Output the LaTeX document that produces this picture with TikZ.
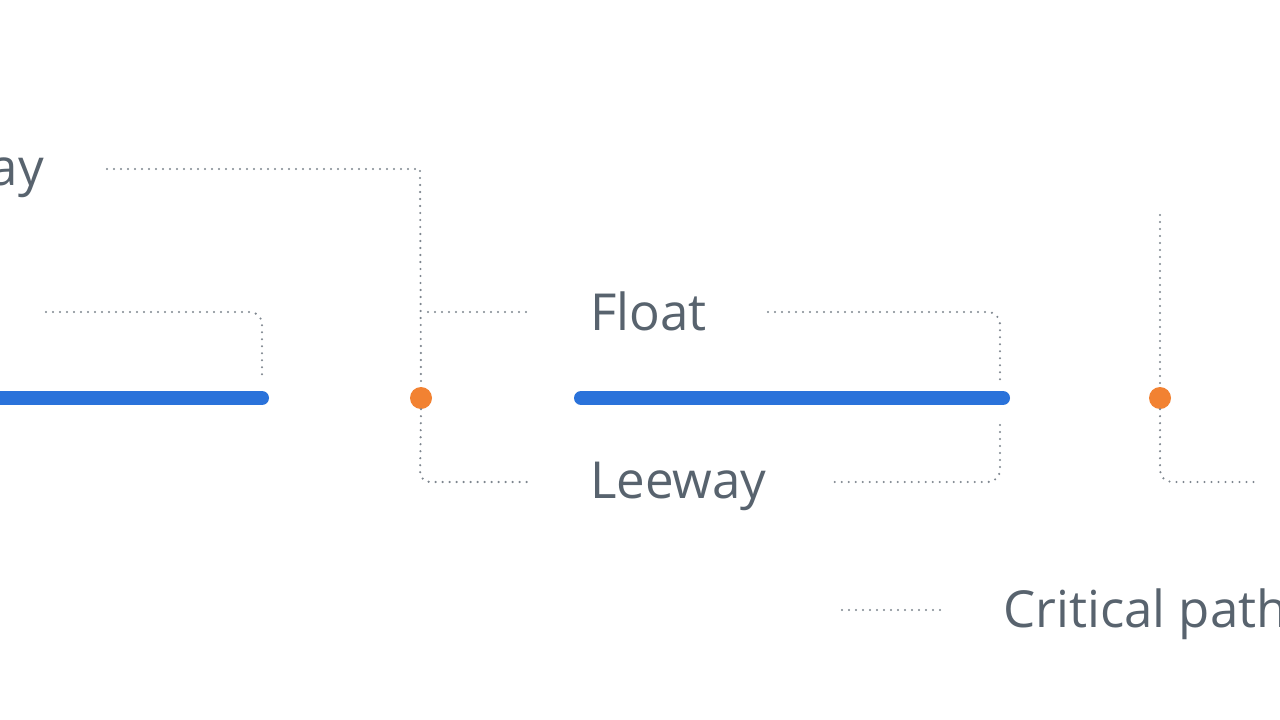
\documentclass[tikz,border=0pt]{standalone}
\usepackage{fontspec}
\setmainfont{Open Sans}
\definecolor{txt}{HTML}{58636E}
\definecolor{barblue}{HTML}{2A72DA}
\definecolor{dotorange}{HTML}{F28232}
\definecolor{dotgray}{HTML}{7E868F}
\begin{document}
\begin{tikzpicture}[x=1pt,y=-1pt,
  lbl/.style={font=\fontsize{51}{60}\selectfont, text=txt, inner sep=0pt},
  dotline/.style={draw=dotgray, line width=2.4pt, line cap=round, dash pattern=on 0pt off 7pt},
  bar/.style={draw=barblue, line width=14pt, line cap=round},
  event/.style={circle, fill=dotorange, inner sep=0pt, minimum size=22pt}]
\fill[white] (0,0) rectangle (1280,720);
\useasboundingbox (0,0) rectangle (1280,720);
\begin{scope}
\clip (0,0) rectangle (1280,720);
% labels
\node[lbl, anchor=base east] (lw0) at (44,185) {Leeway};
\node[lbl, anchor=base west] (fl) at (590,330) {Float};
\node[lbl, anchor=base west] (lw) at (590,498) {Leeway};
\node[lbl, anchor=base west] (cp) at (1003,627) {Critical path};
% events
\node[event] (e1) at (421,398) {};
\node[event] (e2) at (1160,398) {};
% bars
\coordinate (b0s) at (-20,398);
\coordinate (b0e) at (262,398);
\coordinate (b1s) at (581,398);
\coordinate (b1e) at (1003,398);
\draw[bar] (b0s) -- (b0e);
\draw[bar] (b1s) -- (b1e);
% dotted connectors
\coordinate (a1) at (107,169);
\coordinate (a2) at (420,169);
\draw[dotline] (a1) -- (a2) -- (e1.north);
\coordinate (a3) at (428,312);
\coordinate (a4) at (528,312);
\draw[dotline] (a3) -- (a4);
\coordinate (a6) at (527,482);
\draw[dotline, rounded corners=10pt] (e1.south) -- (420,482) -- (a6);
\coordinate (c1) at (46,312);
\coordinate (c2) at (262,312);
\draw[dotline, rounded corners=12pt] (c1) -- (c2) -- (262,380);
\coordinate (d1) at (768,312);
\draw[dotline, rounded corners=12pt] (d1) -- (1000,312) -- (1000,382);
\coordinate (d2) at (833,482);
\draw[dotline, rounded corners=12pt] (1000,425) -- (1000,482) -- (d2);
\coordinate (f1) at (1160,215);
\draw[dotline] (f1) -- (e2.north);
\coordinate (f2) at (1256,482);
\draw[dotline, rounded corners=12pt] (e2.south) -- (1160,482) -- (f2);
% legend
\coordinate (g1) at (842,610);
\coordinate (g2) at (942,610);
\draw[dotline] (g1) -- (g2);
\end{scope}
\end{tikzpicture}
\end{document}
